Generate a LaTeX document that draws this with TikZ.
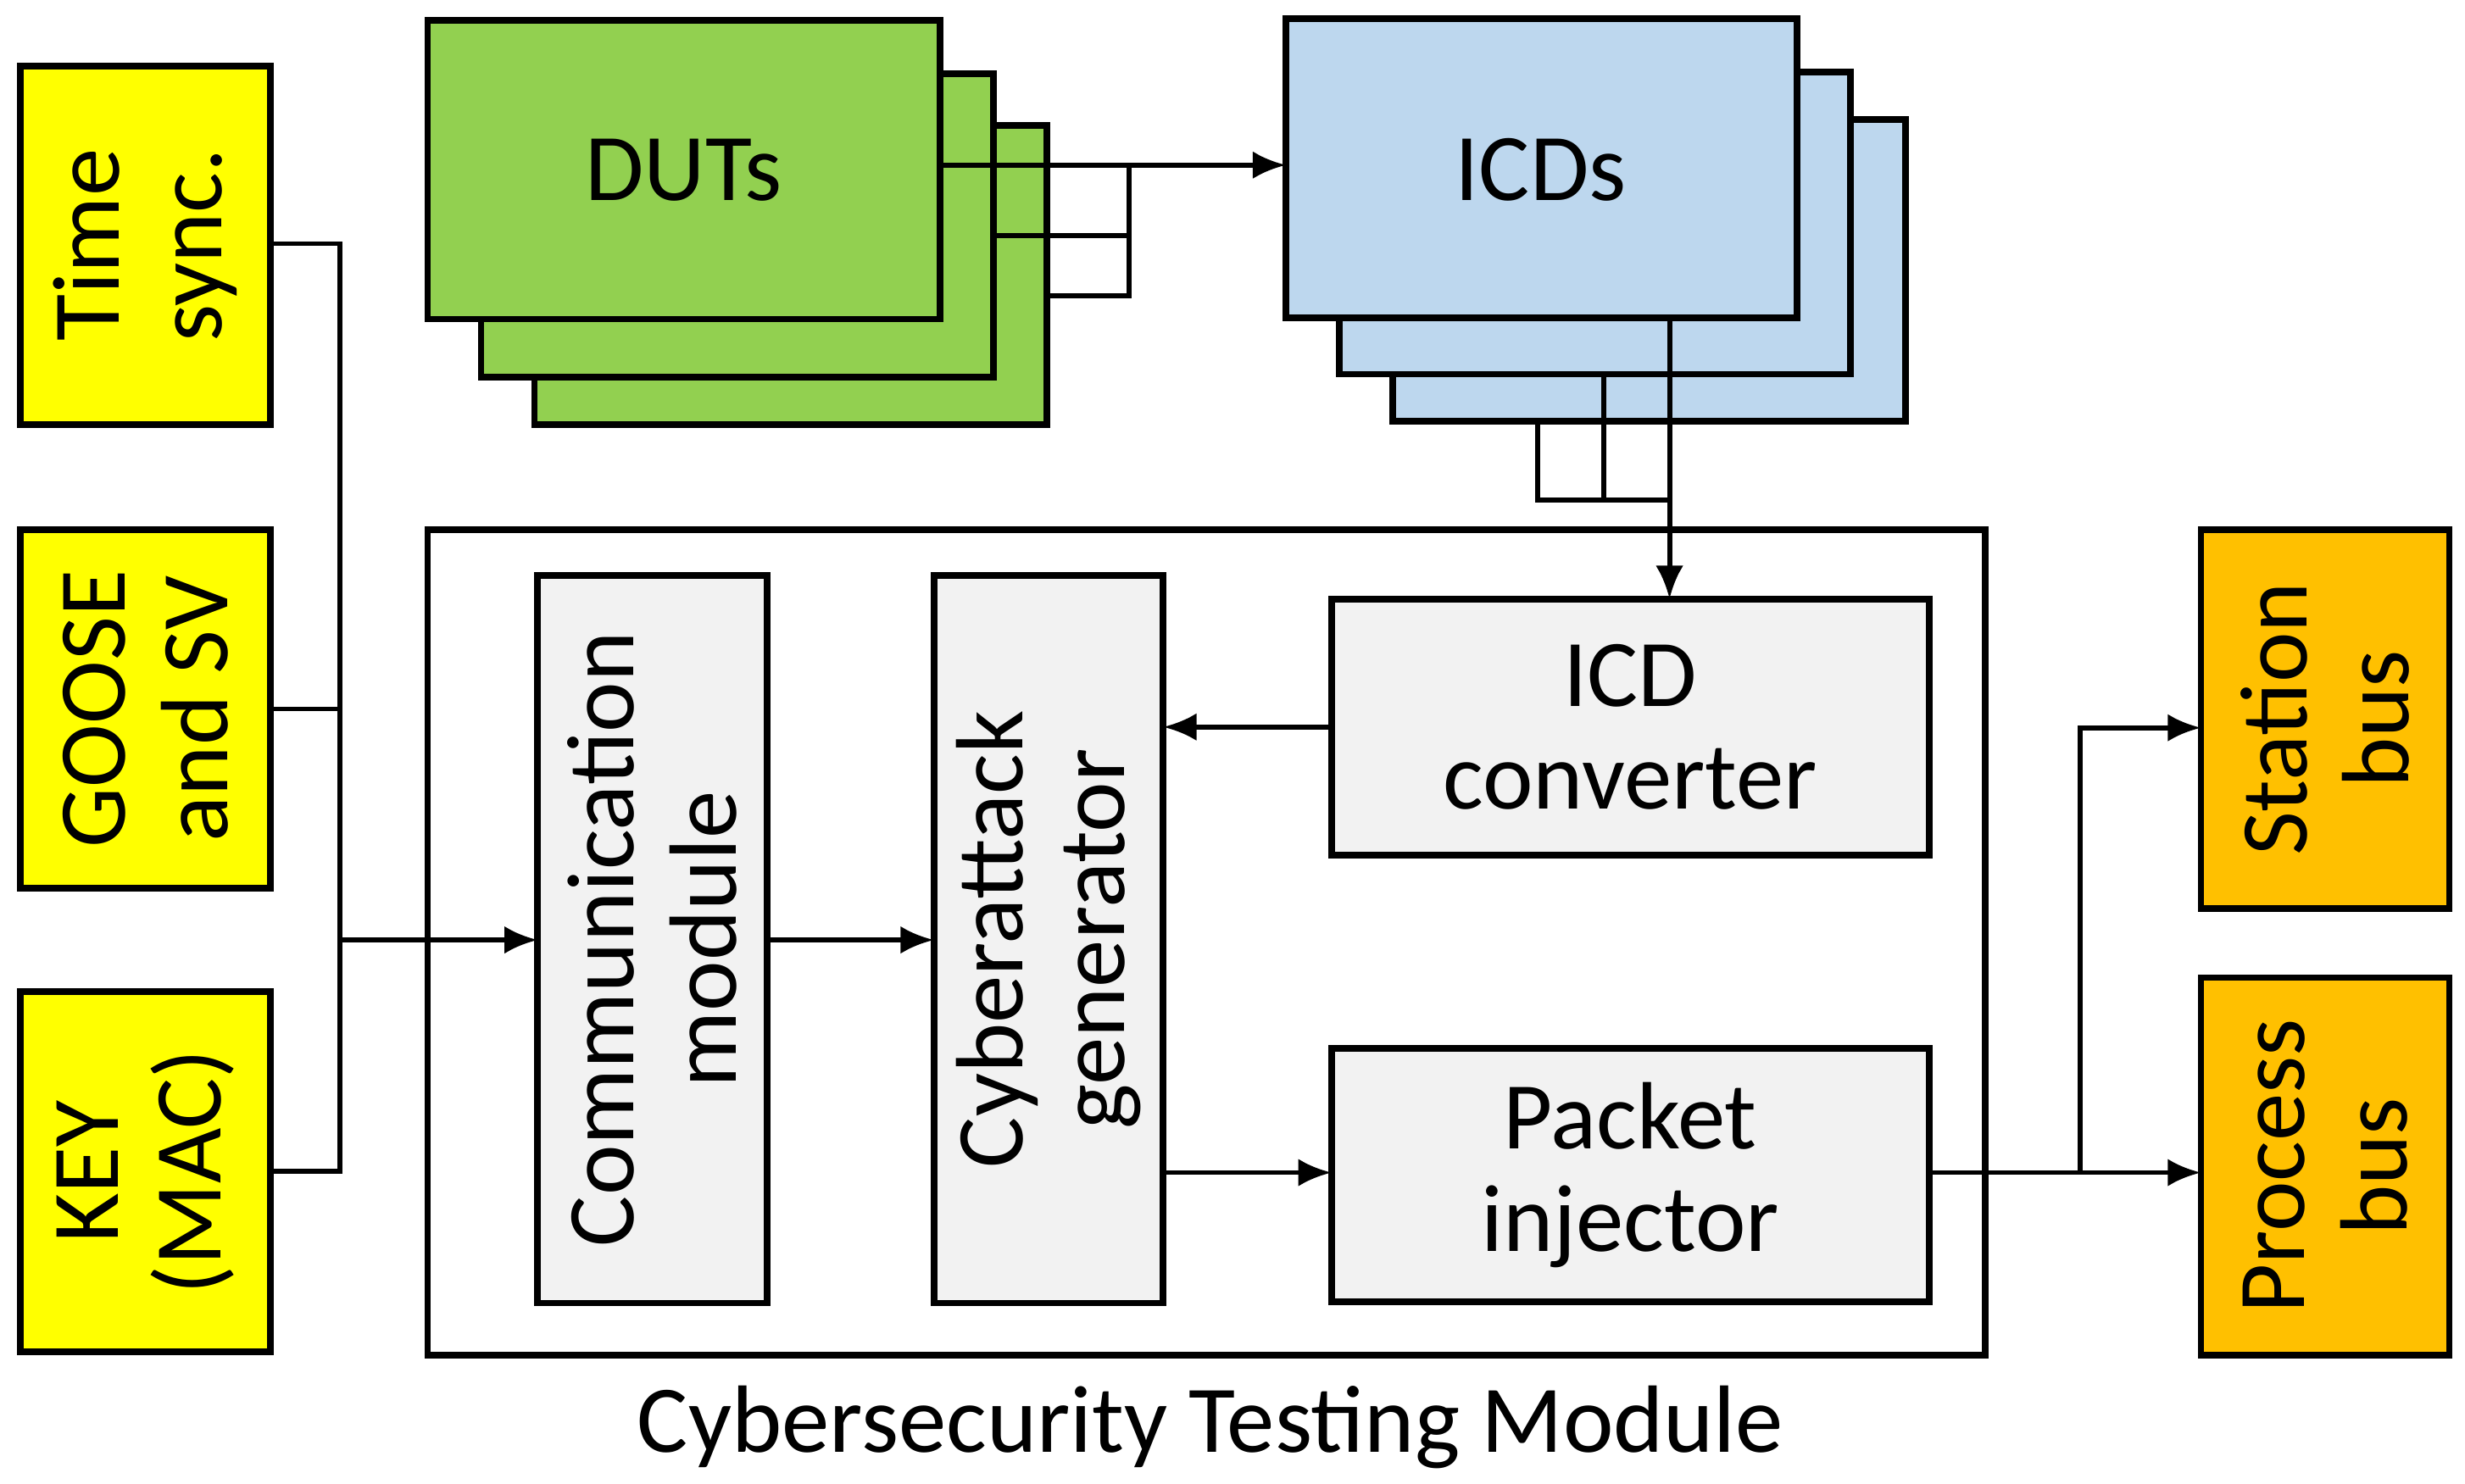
\documentclass[tikz,border=0pt]{standalone}
\usepackage{fontspec}
\setmainfont{Carlito}
\usetikzlibrary{arrows.meta}
\definecolor{yel}{RGB}{255,255,0}
\definecolor{grn}{RGB}{146,208,80}
\definecolor{blu}{RGB}{189,215,238}
\definecolor{gry}{RGB}{242,242,242}
\definecolor{org}{RGB}{255,192,0}
% box from corner (x1,y1) to (x2,y2), in reference pixels
\newcommand{\bx}[6]{\node[box,#6,minimum width={(#4-#2)*0.01cm},minimum height={(#5-#3)*0.01cm}] (#1) at ({(#2+#4)/2},{(#3+#5)/2}) {};}
\begin{document}
\begin{tikzpicture}[x=0.01cm,y=-0.01cm,
  box/.style={draw,line width=1.2pt,inner sep=0pt,outer sep=0pt},
  txt/.style={font=\fontsize{17.3}{18.5}\selectfont,align=center},
  ln/.style={line width=0.9pt},
  ar/.style={ln,-{Latex[length=6pt,width=5pt]}}]
\useasboundingbox (0,0) rectangle (1568,944);
% inputs
\bx{ts}{13}{42}{172}{270}{fill=yel}
\bx{gs}{13}{337}{172}{565}{fill=yel}
\bx{km}{13}{631}{172}{860}{fill=yel}
\node[txt,rotate=90] (tst) at (ts) {Time\\sync.};
\node[txt,rotate=90] (gst) at (gs) {GOOSE\\and SV};
\node[txt,rotate=90] (kmt) at (km) {KEY\\(MAC)};
% DUTs
\bx{d3}{340}{80}{666}{270}{fill=grn}
\bx{d2}{306}{47}{632}{240}{fill=grn}
\bx{d1}{272}{13}{598}{203}{fill=grn}
\node[txt] (dt) at (435,108) {DUTs};
% ICDs
\bx{i3}{886}{76}{1212}{268}{fill=blu}
\bx{i2}{852}{46}{1177}{238}{fill=blu}
\bx{i1}{818}{12}{1143}{202}{fill=blu}
\node[txt] (it) at (980,108) {ICDs};
% testing module
\bx{ctm}{272}{337}{1263}{862}{}
\node[txt] (ctmt) at (770,908) {Cybersecurity Testing Module};
\bx{cm}{342}{366}{488}{829}{fill=gry}
\bx{cg}{594}{366}{740}{829}{fill=gry}
\bx{ic}{847}{381}{1227}{544}{fill=gry}
\bx{pi}{847}{667}{1227}{828}{fill=gry}
\node[txt,rotate=90] (cmt) at (cm) {Communication\\module};
\node[txt,rotate=90] (cgt) at (cg) {Cyberattack\\generator};
\node[txt] (ict) at (ic) {ICD\\converter};
\node[txt] (pit) at (pi) {Packet\\injector};
% outputs
\bx{sb}{1400}{337}{1558}{578}{fill=org}
\bx{pb}{1400}{622}{1558}{862}{fill=org}
\node[txt,rotate=90] (sbt) at (sb) {Station\\bus};
\node[txt,rotate=90] (pbt) at (pb) {Process\\bus};
% coordinates
\coordinate (bt) at (216,155);
\coordinate (bb) at (216,745);
\coordinate (bm) at (216,598);
\coordinate (dx) at (718,105);
\coordinate (ix) at (1062,318);
\coordinate (sp) at (1323,746);
\coordinate (sy) at (0,463);
% left bus
\draw[ln] (ts.east|-bt) -- (bt) -- (bb) -- (km.east|-bb);
\draw[ln] (gs.east) -- (gs.east-|bt);
\draw[ar] (bm) -- (cm.west|-bm);
\draw[ar] (cm.east|-bm) -- (cg.west|-bm);
\draw[ar] (ic.west) -- (cg.east|-ic.west);
\draw[ar] (cg.east|-sp) -- (pi.west|-sp);
\draw[ar] (pi.east|-sp) -- (pb.west|-sp);
\draw[ar] (sp) |- (sb.west|-sy);
% DUTs to ICDs
\draw[ar] (d1.east|-dx) -- (i1.west|-dx);
\draw[ln] (dx) -- (718,188) -- (d3.east|-0,188);
\draw[ln] (d2.east|-0,150) -- (718,150);
% ICDs to converter
\draw[ar] (i1.south-|ix) -- (ic.north-|ix);
\draw[ln] (i3.south-|978,0) -- (978,318) -- (ix);
\draw[ln] (i2.south-|1020,0) -- (1020,318);
\end{tikzpicture}
\end{document}
